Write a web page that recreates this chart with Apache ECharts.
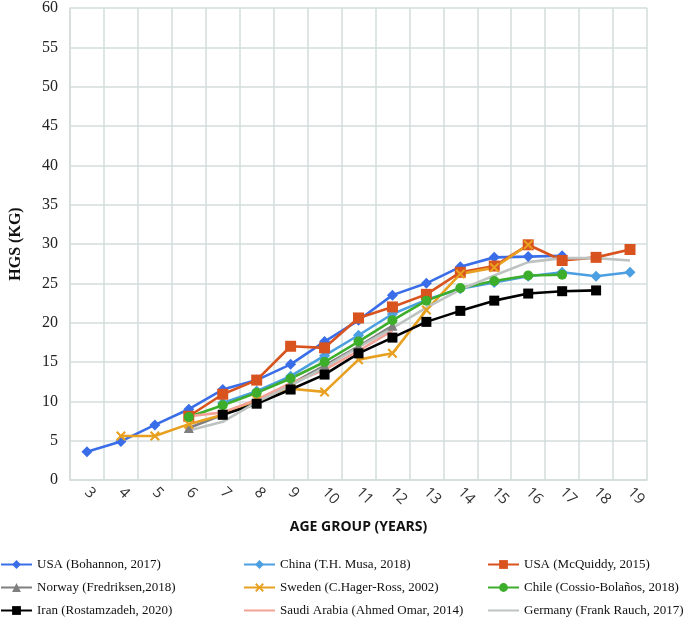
<!DOCTYPE html>
<html><head><meta charset="utf-8">
<script src="https://cdn.jsdelivr.net/npm/echarts@6/dist/echarts.min.js"></script>
<style>html,body{margin:0;padding:0;background:#fff}#c{width:685px;height:619px}</style>
</head><body><div id="c"></div>
<script>
const ages = ['3','4','5','6','7','8','9','10','11','12','13','14','15','16','17','18','19'];
const yTicks = {min:0, max:60, interval:5};
const _ = null;
const usaBohannon = [3.6,4.9,7.0,9.0,11.5,12.7,14.7,17.6,20.3,23.5,25.0,27.1,28.3,28.4,28.5,_,_];
const chinaMusa   = [_,_,_,_,9.8,11.3,13.2,15.8,18.4,21.1,22.9,24.3,25.1,25.9,26.4,25.9,26.4];
const usaMcQuiddy = [_,_,_,8.1,10.9,12.7,17.0,16.8,20.6,22.0,23.6,26.4,27.2,29.9,27.9,28.3,29.3];
const norway      = [_,_,_,6.6,8.3,10.0,12.2,14.55,17.0,19.6,_,_,_,_,_,_,_];
const sweden      = [_,5.6,5.6,7.1,8.3,10.2,11.6,11.2,15.3,16.1,21.6,26.2,27.0,29.9,_,_,_];
const chile       = [_,_,_,8.0,9.5,11.1,12.9,15.0,17.6,20.3,22.8,24.4,25.3,26.0,26.1,_,_];
const iran        = [_,_,_,_,8.3,9.7,11.5,13.4,16.1,18.1,20.1,21.5,22.8,23.7,24.0,24.1,_];
const saudi       = [_,_,_,8.1,8.6,10.2,12.3,14.0,16.4,19.0,_,_,_,_,_,_,_];
const germany     = [_,_,_,6.3,7.4,9.9,12.0,14.3,16.9,19.3,21.9,24.2,26.0,27.7,28.2,28.2,27.9];

const names = ['USA (Bohannon, 2017)','China (T.H. Musa, 2018)','USA (McQuiddy, 2015)',
  'Norway (Fredriksen,2018)','Sweden (C.Hager-Ross, 2002)','Chile (Cossio-Bolaños, 2018)',
  'Iran (Rostamzadeh, 2020)','Saudi Arabia (Ahmed Omar, 2014)','Germany (Frank Rauch, 2017)'];
const datas = [usaBohannon,chinaMusa,usaMcQuiddy,norway,sweden,chile,iran,saudi,germany];
const colors = ['#3A6EE8','#4C9FE0','#D9531E','#7F7F7F','#E8A020','#3DAE2B','#000000','#F4A196','#BDC3C1'];
const xPath = 'path://M0,1.5L1.5,0L5,3.5L8.5,0L10,1.5L6.5,5L10,8.5L8.5,10L5,6.5L1.5,10L0,8.5L3.5,5Z';
const symbols = ['diamond','diamond','rect','triangle',xPath,'circle','rect','none','none'];
const sizes = [11,11,11,10,10,10,10,0,0];

const series = names.map((n,i)=>({
  name:n, type:'line', data:datas[i], symbol:symbols[i], symbolSize:sizes[i],
  showSymbol: symbols[i]!=='none', connectNulls:false,
  lineStyle:{color:colors[i], width:2.6}, itemStyle:{color:colors[i]},
  emphasis:{disabled:true}
}));

const legendText = {fontFamily:'"Liberation Serif","DejaVu Serif",serif', fontSize:13, color:'#111'};
const colLeft = [0,243,487], rowTop = [558,581,604];
const legends = names.map((n,i)=>({
  left: colLeft[i%3], top: rowTop[Math.floor(i/3)], padding:0,
  itemWidth:31, itemHeight:11, itemGap:0,
  data:[symbols[i]==='none' ? {name:n, itemStyle:{opacity:0}} : n],
  textStyle:legendText, selectedMode:false
}));

const chart = echarts.init(document.getElementById('c'), null, {renderer:'canvas'});
chart.setOption({
  animation:false,
  color:colors,
  grid:{left:69, right:38, top:5, bottom:139, containLabel:false},
  xAxis:{type:'category', data:ages, boundaryGap:true,
    name:'AGE GROUP (YEARS)', nameLocation:'middle', nameGap:40,
    nameTextStyle:{fontFamily:'"Open Sans","Liberation Sans",sans-serif', fontWeight:'bold', fontSize:14, color:'#111'},
    axisLine:{lineStyle:{color:'#D3DCDC', width:1.5}}, axisTick:{show:false},
    axisLabel:{rotate:-45, margin:10, fontFamily:'"Open Sans","Liberation Sans",sans-serif', fontSize:15, color:'#333'},
    splitLine:{show:true, lineStyle:{color:'#D3DCDC', width:1.5}}},
  yAxis:{type:'value', min:yTicks.min, max:yTicks.max, interval:yTicks.interval,
    name:'HGS (KG)', nameLocation:'middle', nameGap:46,
    nameTextStyle:{fontFamily:'"Liberation Serif","DejaVu Serif",serif', fontWeight:'bold', fontSize:16, color:'#111'},
    axisLine:{show:true, lineStyle:{color:'#D3DCDC', width:1.5}}, axisTick:{show:false},
    axisLabel:{margin:12, fontFamily:'"Liberation Serif","DejaVu Serif",serif', fontSize:16, color:'#222'},
    splitLine:{lineStyle:{color:'#D3DCDC', width:1.5}}},
  legend:legends,
  series:series
});
</script></body></html>
